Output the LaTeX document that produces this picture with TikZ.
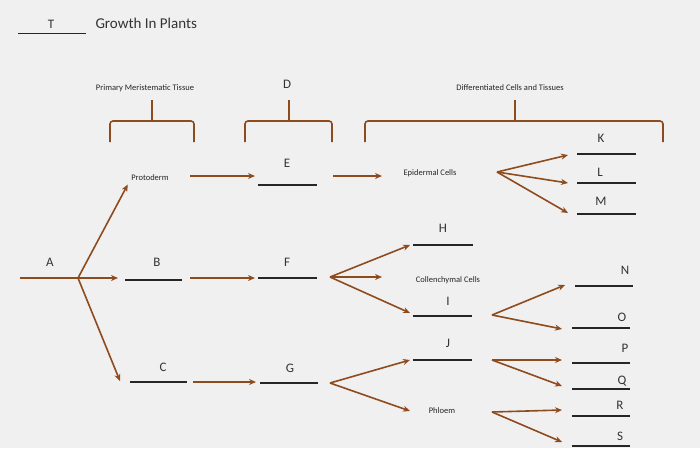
\documentclass[tikz,border=0pt]{standalone}
\usepackage{fontspec}
\setmainfont{Carlito}
\usetikzlibrary{arrows.meta}
\definecolor{br}{HTML}{8E4B1E}
\begin{document}
\begin{tikzpicture}[x=1pt,y=-1pt,
  ln/.style={draw=br,line width=1.6pt},
  ar/.style={ln,-{Stealth[length=7pt,width=6pt]}},
  blank/.style={draw=black!85,line width=1.6pt},
  lab/.style={font=\fontsize{13}{13}\selectfont,text=black!80},
  sm/.style={font=\fontsize{8.5}{8.5}\selectfont,text=black!85}]
\fill[gray!12] (0,0) rectangle (700,448);
\useasboundingbox (0,0) rectangle (700,448);
% title
\draw[blank,line width=1pt] (18,33) -- (86,33);
\node[lab] (T) at (51,24) {T};
\node[lab,anchor=west,font=\fontsize{15}{15}\selectfont] (title) at (92,23) {Growth In Plants};
% headings
\node[sm] (pmt) at (145,88) {Primary Meristematic Tissue};
\node[lab] (D) at (287,84) {D};
\node[sm] (dct) at (510,88) {Differentiated Cells and Tissues};
% braces
\draw[ln,rounded corners=3pt] (110,142) -- (110,121) -- (194,121) -- (194,142);
\draw[ln] (152,121) -- (152,100);
\draw[ln,rounded corners=3pt] (245,142) -- (245,121) -- (332,121) -- (332,142);
\draw[ln] (289,121) -- (289,100);
\draw[ln,rounded corners=3pt] (365,142) -- (365,121) -- (663,121) -- (663,142);
\draw[ln] (515,121) -- (515,100);
% row 1
\node[sm] (proto) at (150,178) {Protoderm};
\coordinate (Es) at (258,185); \coordinate (Ee) at (317,185);
\draw[blank] (Es) -- (Ee); \node[lab] (E) at (287,163) {E};
\draw[ar] (190,176) -- (255,176);
\draw[ar] (333,176) -- (382,176);
\node[sm] (epi) at (430,173) {Epidermal Cells};
\coordinate (f1) at (497,172);
\draw[ar] (f1) -- (568,155);
\draw[ar] (f1) -- (568,183);
\draw[ar] (f1) -- (568,213);
\draw[blank] (577,154) -- (636,154); \node[lab] (K) at (601,138) {K};
\draw[blank] (577,183) -- (636,183); \node[lab] (L) at (600,172) {L};
\draw[blank] (577,214) -- (636,214); \node[lab] (M) at (601,201) {M};
% A
\node[lab] (A) at (50,262) {A};
\coordinate (j) at (78,278);
\draw[ln] (20,278) -- (j);
\draw[ar] (j) -- (118,278);
\draw[ar] (j) -- (proto.south west);
\draw[ar] (j) -- (120,381);
% row B
\draw[blank] (125,280) -- (182,280); \node[lab] (B) at (157,262) {B};
\draw[ar] (190,278) -- (255,278);
\draw[blank] (258,278) -- (317,278); \node[lab] (F) at (287,262) {F};
\coordinate (f2) at (330,277);
\draw[ar] (f2) -- (410,245);
\draw[ar] (f2) -- (382,277);
\draw[ar] (f2) -- (410,313);
\draw[blank] (413,245) -- (473,245); \node[lab] (H) at (443,228) {H};
\node[sm] (col) at (448,280) {Collenchymal Cells};
\draw[blank] (413,316) -- (472,316); \node[lab] (I) at (448,301) {I};
\coordinate (f3) at (492,315);
\draw[ar] (f3) -- (565,285);
\draw[ar] (f3) -- (562,329);
\draw[blank] (575,286) -- (633,286); \node[lab] (N) at (625,270) {N};
\draw[blank] (572,328) -- (630,328); \node[lab] (O) at (622,317) {O};
% row C
\draw[blank] (130,382) -- (187,382); \node[lab] (C) at (163,367) {C};
\draw[ar] (193,382) -- (256,382);
\draw[blank] (260,383) -- (318,383); \node[lab] (G) at (290,368) {G};
\coordinate (f4) at (330,383);
\draw[ar] (f4) -- (410,360);
\draw[ar] (f4) -- (410,411);
\draw[blank] (413,360) -- (472,360); \node[lab] (J) at (448,343) {J};
\node[sm] (phl) at (442,411) {Phloem};
\coordinate (f5) at (492,360);
\draw[ar] (f5) -- (562,360);
\draw[ar] (f5) -- (562,386);
\draw[blank] (572,363) -- (630,363); \node[lab] (P) at (625,348) {P};
\draw[blank] (572,389) -- (630,389); \node[lab] (Q) at (622,381) {Q};
\coordinate (f6) at (492,412);
\draw[ar] (f6) -- (562,410);
\draw[ar] (f6) -- (562,442);
\draw[blank] (572,416) -- (630,416); \node[lab] (R) at (620,405) {R};
\draw[blank] (572,446) -- (630,446); \node[lab] (S) at (620,436) {S};
\end{tikzpicture}
\end{document}
